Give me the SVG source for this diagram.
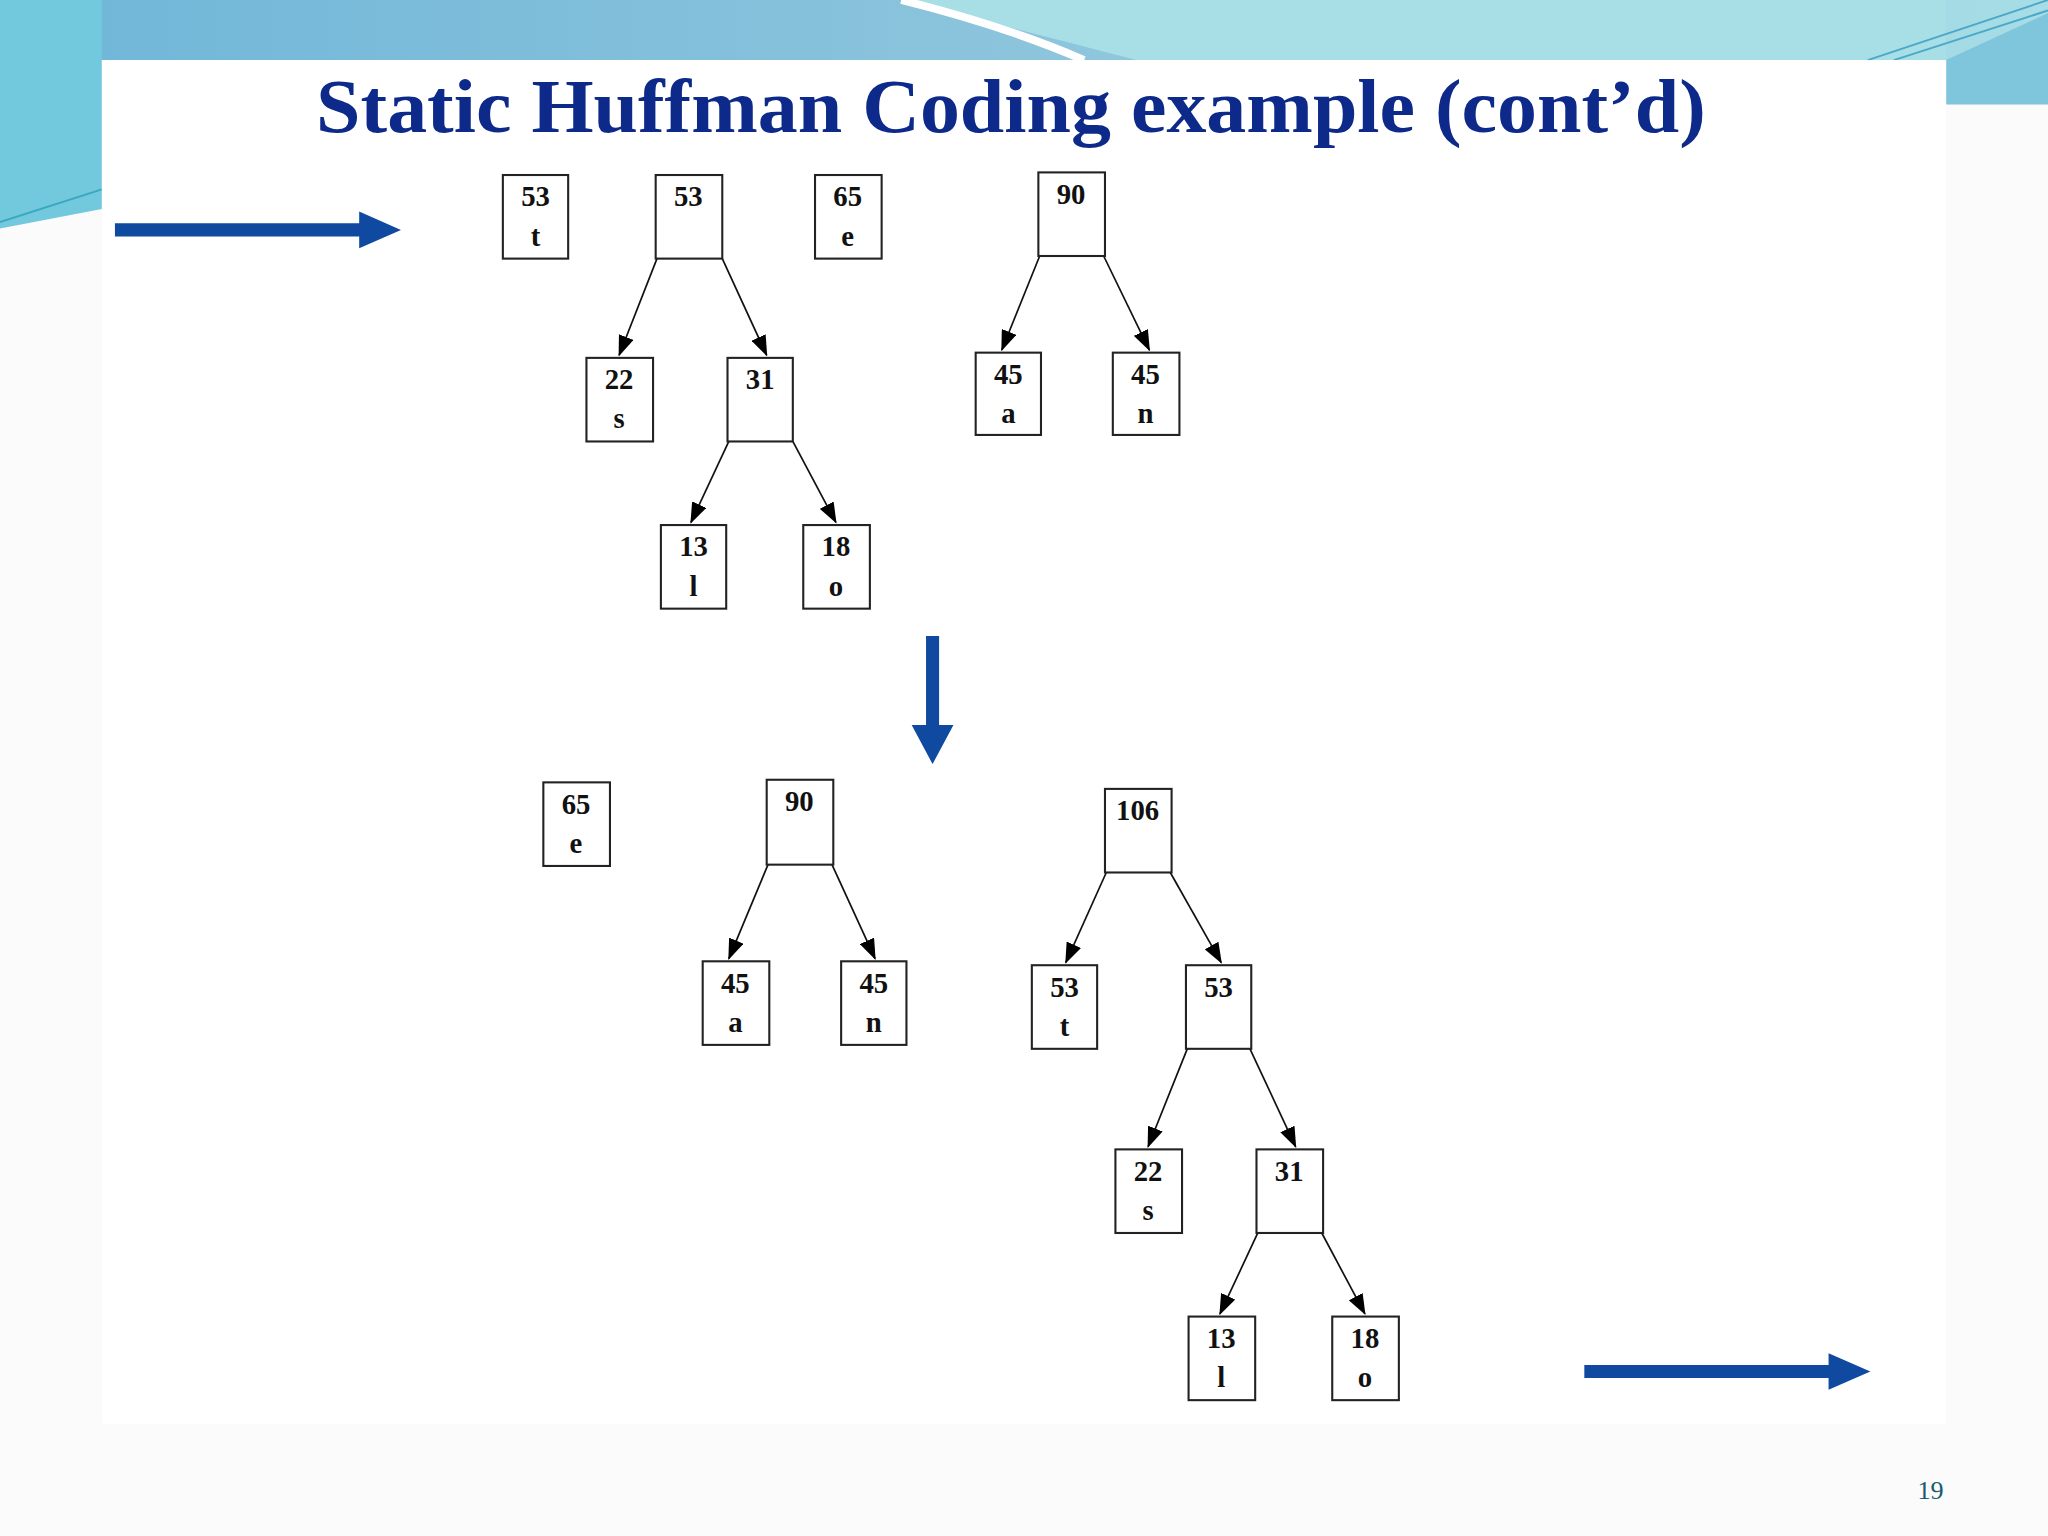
<svg xmlns="http://www.w3.org/2000/svg" width="2048" height="1536" viewBox="0 0 2048 1536">
<defs>
<linearGradient id="bg" x1="0" y1="0" x2="1" y2="0"><stop offset="0" stop-color="#6fb6d8"/><stop offset="0.5" stop-color="#8cc4dc"/><stop offset="1" stop-color="#a6dde6"/></linearGradient>
<marker id="ah" markerWidth="16" markerHeight="12" refX="15" refY="6" orient="auto" markerUnits="userSpaceOnUse"><path d="M0,0 L16,6 L0,12 z" fill="#000"/></marker>
<style>
.n rect{fill:#fff;stroke:#222;stroke-width:1.6}
.n text{font-family:"Liberation Serif",serif;font-size:22px;text-anchor:middle;fill:#111;font-weight:bold}
.e line{stroke:#111;stroke-width:1.3;marker-end:url(#ah)}
.ba{fill:#0f4aa0}
</style>
</defs>
<g transform="scale(1.30612)">
<rect width="1568" height="1176" fill="#fbfbfb"/>
<rect width="1568" height="46" fill="url(#bg)"/>
<path d="M0,0 L78,0 L78,160 L0,175 z" fill="#72c8dd"/>
<path d="M690,0 Q790,25 870,46 L1490,46 L1490,0 z" fill="#a8dfe6"/>
<path d="M690,0 Q770,20 830,46" fill="none" stroke="#fff" stroke-width="6"/>
<path d="M1490,46 L1568,10 L1568,80 L1490,80 z" fill="#7fc6dc"/>
<path d="M1430,46 L1568,0 M1450,46 L1568,8" stroke="#4aa8c8" stroke-width="1.5"/>
<path d="M0,170 L78,145" stroke="#3aa8c0" stroke-width="1.5"/>
<rect x="78" y="46" width="1412" height="1044" fill="#fff"/>
<text x="242" y="101" font-family="Liberation Serif,serif" font-weight="bold" font-size="58" fill="#0d2a8a" textLength="1064" lengthAdjust="spacingAndGlyphs">Static Huffman Coding example (cont’d)</text>
<path class="ba" d="M88,171 L275,171 L275,162 L307,176 L275,190 L275,181 L88,181 z"/>
<path class="ba" d="M709,487 L719,487 L719,555 L730,555 L714,585 L698,555 L709,555 z"/>
<path class="ba" d="M1213,1045 L1400,1045 L1400,1036 L1432,1050 L1400,1064 L1400,1055 L1213,1055 z"/>
<g class="e">
<line x1="503" y1="198" x2="474" y2="272"/>
<line x1="553" y1="198" x2="587" y2="272"/>
<line x1="558" y1="338" x2="529" y2="400"/>
<line x1="607" y1="338" x2="640" y2="400"/>
<line x1="796" y1="196" x2="767" y2="268"/>
<line x1="845" y1="196" x2="880" y2="268"/>
<line x1="588" y1="662" x2="558" y2="734"/>
<line x1="637" y1="662" x2="670" y2="734"/>
<line x1="847" y1="668" x2="816" y2="737"/>
<line x1="896" y1="668" x2="935" y2="737"/>
<line x1="909" y1="803" x2="879" y2="878"/>
<line x1="957" y1="803" x2="992" y2="878"/>
<line x1="963" y1="944" x2="934" y2="1006"/>
<line x1="1012" y1="944" x2="1045" y2="1006"/>
</g>
<g id="t53" class="n"><rect x="385" y="134" width="50" height="64"/><text x="410" y="158">53</text><text x="410" y="188">t</text></g>
<g id="i53" class="n"><rect x="502" y="134" width="51" height="64"/><text x="527" y="158">53</text></g>
<g id="e65" class="n"><rect x="624" y="134" width="51" height="64"/><text x="649" y="158">65</text><text x="649" y="188">e</text></g>
<g id="i90" class="n"><rect x="795" y="132" width="51" height="64"/><text x="820" y="156">90</text></g>
<g id="s22" class="n"><rect x="449" y="274" width="51" height="64"/><text x="474" y="298">22</text><text x="474" y="328">s</text></g>
<g id="i31" class="n"><rect x="557" y="274" width="50" height="64"/><text x="582" y="298">31</text></g>
<g id="a45" class="n"><rect x="747" y="270" width="50" height="63"/><text x="772" y="294">45</text><text x="772" y="324">a</text></g>
<g id="n45" class="n"><rect x="852" y="270" width="51" height="63"/><text x="877" y="294">45</text><text x="877" y="324">n</text></g>
<g id="l13" class="n"><rect x="506" y="402" width="50" height="64"/><text x="531" y="426">13</text><text x="531" y="456">l</text></g>
<g id="o18" class="n"><rect x="615" y="402" width="51" height="64"/><text x="640" y="426">18</text><text x="640" y="456">o</text></g>
<g id="b_e65" class="n"><rect x="416" y="599" width="51" height="64"/><text x="441" y="623">65</text><text x="441" y="653">e</text></g>
<g id="b_i90" class="n"><rect x="587" y="597" width="51" height="65"/><text x="612" y="621">90</text></g>
<g id="b_a45" class="n"><rect x="538" y="736" width="51" height="64"/><text x="563" y="760">45</text><text x="563" y="790">a</text></g>
<g id="b_n45" class="n"><rect x="644" y="736" width="50" height="64"/><text x="669" y="760">45</text><text x="669" y="790">n</text></g>
<g id="b_i106" class="n"><rect x="846" y="604" width="51" height="64"/><text x="871" y="628">106</text></g>
<g id="b_t53" class="n"><rect x="790" y="739" width="50" height="64"/><text x="815" y="763">53</text><text x="815" y="793">t</text></g>
<g id="b_i53" class="n"><rect x="908" y="739" width="50" height="64"/><text x="933" y="763">53</text></g>
<g id="b_s22" class="n"><rect x="854" y="880" width="51" height="64"/><text x="879" y="904">22</text><text x="879" y="934">s</text></g>
<g id="b_i31" class="n"><rect x="962" y="880" width="51" height="64"/><text x="987" y="904">31</text></g>
<g id="b_l13" class="n"><rect x="910" y="1008" width="51" height="64"/><text x="935" y="1032">13</text><text x="935" y="1062">l</text></g>
<g id="b_o18" class="n"><rect x="1020" y="1008" width="51" height="64"/><text x="1045" y="1032">18</text><text x="1045" y="1062">o</text></g>
<text x="1478" y="1148" font-family="Liberation Serif,serif" font-size="20" fill="#1a5a70" text-anchor="middle">19</text>
</g>
</svg>
